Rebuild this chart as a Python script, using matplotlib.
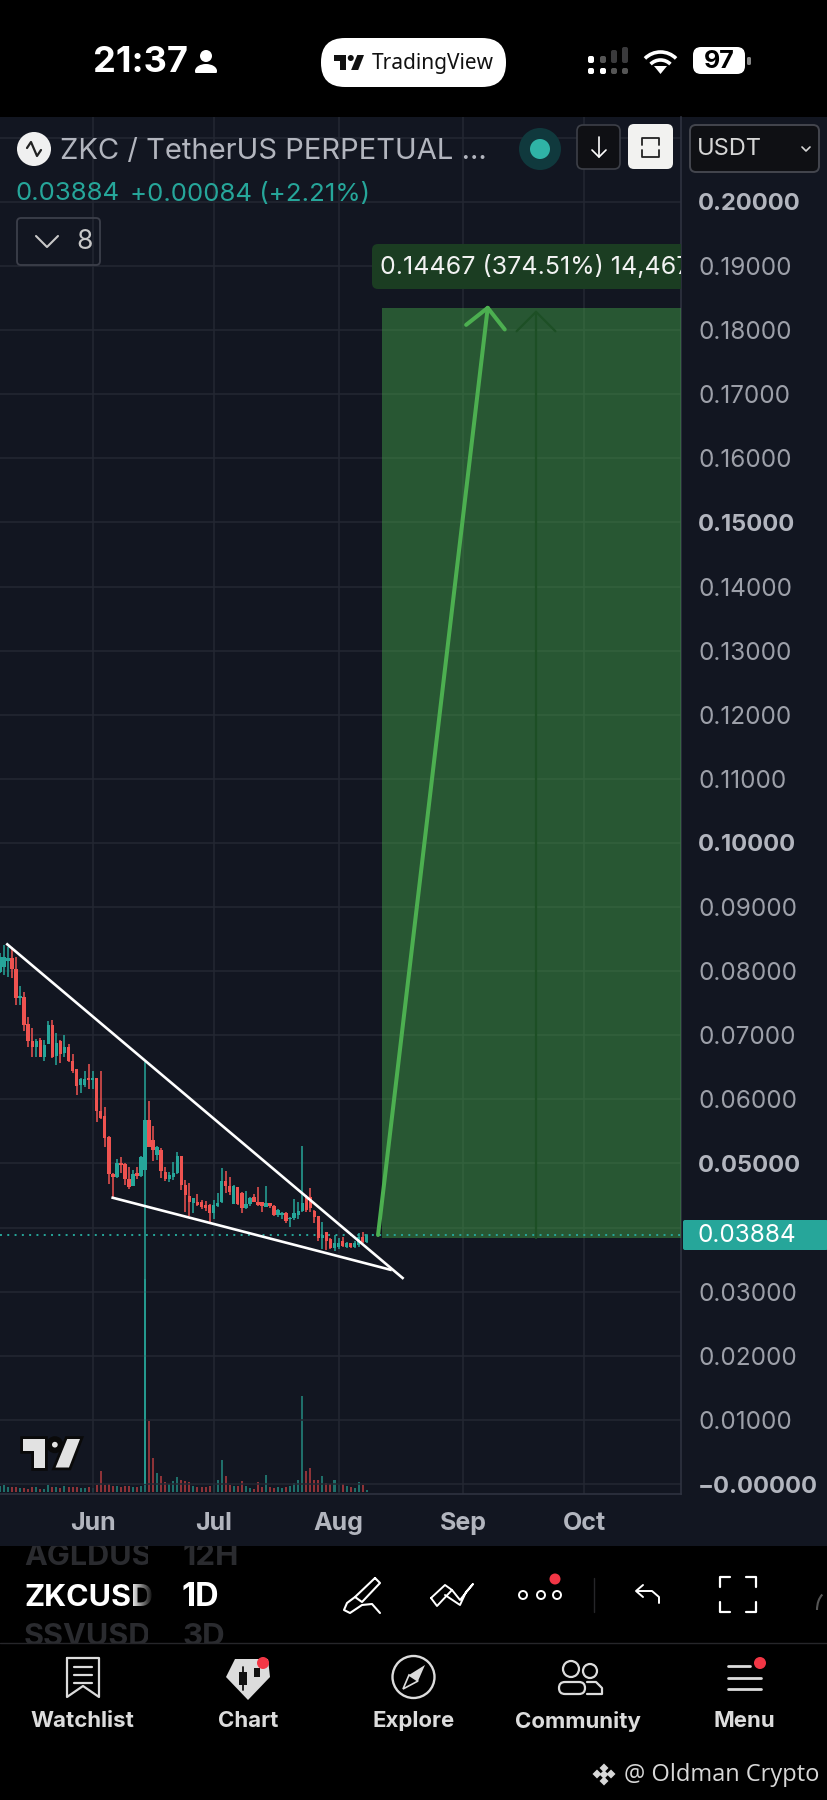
import numpy as np
import matplotlib
matplotlib.use("Agg")
import matplotlib.pyplot as plt
from matplotlib.patches import Circle, Rectangle, FancyBboxPatch, Polygon, Arc, Ellipse

# daily candles, days counted from 1 Jun
days = list(range(-23, 69))
highs = [8289, 8408, 8382, 8382, 8226, 7769, 7670, 7280, 7108, 6942, 6952, 6926, 7228, 7238, 7030, 6926,
         7004, 6864, 6703, 6474, 6339, 6448, 6547, 6443, 6339, 6443, 5886, 5434, 4846, 5075, 5106, 5002,
         4940, 4898, 4940, 5117, 6578, 5975, 5585, 5278, 5236, 4940, 4872, 5018, 5184, 5117, 4742, 4690,
         4467, 4519, 4430, 4420, 4368, 4430, 4545, 4935, 4888, 4784, 4659, 4628, 4560, 4576, 4472, 4524,
         4638, 4404, 4654, 4389, 4352, 4285, 4238, 4248, 4160, 4441, 4404, 5273, 4508, 4612, 4274, 4181,
         4082, 3936, 3832, 3884, 3832, 3848, 3780, 3765, 3796, 3921, 3936, 3900]
lows = [7966, 7940, 7914, 7888, 7472, 7472, 7072, 6812, 6666, 6656, 6656, 6599, 6859, 6640, 6536, 6562,
        6666, 6588, 6406, 6074, 6105, 6188, 6162, 6162, 5652, 5689, 5262, 4680, 4467, 4768, 4846, 4664,
        4597, 4654, 4758, 4794, 0, 5252, 5044, 5054, 4768, 4732, 4716, 4742, 4831, 4586, 4248, 4181,
        4222, 4337, 4285, 4264, 4077, 4129, 4326, 4389, 4534, 4508, 4368, 4352, 4222, 4290, 4337, 4404,
        4337, 4243, 4316, 4311, 4186, 4160, 4129, 4077, 4004, 4118, 4129, 4248, 4238, 4248, 4077, 3796,
        3661, 3650, 3661, 3640, 3661, 3692, 3676, 3676, 3676, 3702, 3765, 3765]
opens = [7992, 8070, 8164, 8200, 8029, 7576, 7602, 7176, 6911, 6812, 6926, 6656, 6859, 7160, 6677, 6911,
         6729, 6822, 6604, 6469, 6224, 6224, 6328, 6302, 6328, 5819, 5741, 5418, 4836, 4794, 5002, 4987,
         4753, 4654, 4846, 4805, 4898, 5678, 5366, 5132, 5210, 4872, 4753, 4794, 4846, 5117, 4664, 4493,
         4378, 4404, 4404, 4352, 4352, 4222, 4337, 4404, 4732, 4649, 4368, 4628, 4545, 4300, 4368, 4472,
         4404, 4404, 4316, 4389, 4337, 4196, 4196, 4233, 4129, 4144, 4196, 4264, 4482, 4482, 4264, 4181,
         3832, 3936, 3817, 3676, 3692, 3796, 3702, 3754, 3702, 3728, 3848, 3780]
closes = [8226, 8226, 8200, 8029, 7576, 7613, 7160, 6911, 6812, 6911, 6656, 6848, 7160, 6666, 6874, 6708,
          6822, 6604, 6448, 6214, 6318, 6318, 6302, 6328, 5819, 5704, 5392, 4836, 4794, 5002, 4976, 4753,
          4638, 4831, 4810, 5106, 5678, 5262, 5210, 5252, 4888, 4753, 4820, 4846, 5117, 4664, 4508, 4404,
          4456, 4352, 4316, 4300, 4222, 4352, 4389, 4732, 4649, 4560, 4649, 4368, 4300, 4368, 4467, 4404,
          4352, 4337, 4389, 4337, 4196, 4274, 4233, 4108, 4144, 4222, 4264, 4378, 4274, 4300, 4170, 3832,
          3884, 3796, 3676, 3754, 3754, 3713, 3765, 3692, 3754, 3848, 3780, 3884]
volumes = [20, 22, 15, 17, 17, 12, 12, 10, 15, 15, 10, 10, 22, 16, 15, 12, 18, 15, 15, 17, 12, 12, 16, 12,
           22, 63, 22, 24, 18, 18, 16, 18, 20, 16, 15, 18, 640, 213, 102, 58, 48, 32, 25, 33, 45, 37, 33, 30,
           20, 15, 15, 17, 20, 27, 36, 97, 48, 22, 18, 18, 33, 20, 12, 10, 30, 15, 52, 15, 12, 15, 12, 15,
           18, 28, 38, 288, 65, 72, 36, 38, 48, 27, 25, 38, 25, 25, 18, 15, 14, 30, 22, 8]

month_days = [0, 30, 61, 92, 122]
month_names = ["Jun", "Jul", "Aug", "Sep", "Oct"]
price_ticks = [i / 100 for i in range(0, 22)]
last_price = 0.03884
box_bottom = 0.03838
target_price = 0.18351
upper_line = ([-21.2, 76.9], [0.08419, 0.03214])
lower_line = ([4.96, 73.9], [0.04466, 0.03342])

BG = "#121621"
GRID = "#242833"
TEAL = "#26a69a"
RED = "#ef5350"
LABEL = "#b2b5be"
FONT = "Inter"

fig = plt.figure(figsize=(8.28, 18), dpi=100, facecolor="black")
W, H = 828, 1800


def px_rect(left, top, right, bottom):
    return [left / W, (H - bottom) / H, (right - left) / W, (bottom - top) / H]


# backdrop for the panels around the plot
back = fig.add_axes([0, 0, 1, 1], zorder=0)
back.set_xlim(0, W)
back.set_ylim(H, 0)
back.axis("off")
back.add_patch(Rectangle((0, 117), W, 1429, color=BG, lw=0))

xlim = (-23.0, 146.1)
ax_vol = fig.add_axes(px_rect(0, 117, 681.5, 1494), zorder=1)
ax_vol.set_xlim(*xlim)
ax_vol.set_ylim(-5, 1377 * 3 - 5)
ax_vol.axis("off")
vol_colors = ["#1f6f6a" if c >= o else "#8e3338" for o, c in zip(opens, closes)]
ax_vol.bar(days, volumes, width=0.5, color=vol_colors, lw=0)

ax = fig.add_axes(px_rect(0, 117, 681.5, 1494), zorder=2)
ax.patch.set_alpha(0)
ax.set_xlim(*xlim)
ax.set_ylim(-0.00156, 0.21326)
ax.set_axisbelow(True)
ax.grid(True, color=GRID, lw=1.1)

o = np.array(opens) / 1e5
c = np.array(closes) / 1e5
hi = np.array(highs) / 1e5
lo = np.array(lows) / 1e5
colors = [TEAL if b >= a else RED for a, b in zip(o, c)]
ax.vlines(days, lo, hi, colors=colors, lw=1.1, zorder=3)
ax.bar(days, np.abs(c - o), bottom=np.minimum(o, c), width=0.85, color=colors, lw=0, zorder=4)

ax.add_patch(Rectangle((71.8, box_bottom), xlim[1] - 71.8, target_price - box_bottom,
                       color="#48b24c", alpha=0.42, lw=0, zorder=5))
ax.axhline(last_price, color=TEAL, lw=1.4, ls=(0, (1, 2.75)), zorder=6)
ax.plot(*upper_line, color="white", lw=1.9, zorder=6)
ax.plot(*lower_line, color="white", lw=1.9, zorder=6)
# the measure tool's own arrow, dark inside the box
ax.annotate("", xy=(110, target_price - 0.0004), xytext=(110, box_bottom),
            arrowprops=dict(arrowstyle="->,head_length=0.7,head_width=0.7", mutation_scale=20,
                            color="#1d4f25", lw=1.6, shrinkA=0, shrinkB=0), zorder=6)
ax.annotate("", xy=(98.1, 0.18393), xytext=(70.8, last_price),
            arrowprops=dict(arrowstyle="->,head_length=0.7,head_width=0.7", mutation_scale=20,
                            color="#4caf50", lw=2.9, shrinkA=0, shrinkB=0), zorder=7)

for name in ["top", "left"]:
    ax.spines[name].set_visible(False)
for name in ["right", "bottom"]:
    ax.spines[name].set_color("#2e3240")
    ax.spines[name].set_linewidth(1.2)

ax.yaxis.tick_right()
price_labels = []
for p in price_ticks:
    if p == 0:
        price_labels.append("\u22120.00000")
    elif p > 0.2 or p == 0.04:  # 0.04 sits under the last price tag
        price_labels.append("")
    else:
        price_labels.append(f"{p:.5f}")
ax.set_yticks(price_ticks, labels=price_labels)
ax.tick_params(axis="y", length=0, pad=12, labelsize=17.5, labelcolor="#9da0a9")
for p, label_ in zip(price_ticks, ax.get_yticklabels()):
    label_.set_fontfamily(FONT)
    if round(p * 100) % 5 == 0:
        label_.set_fontweight("bold")
        label_.set_fontsize(17)
        label_.set_color(LABEL)
ax.set_xticks(month_days, labels=month_names)
ax.tick_params(axis="x", length=0, pad=13, labelsize=18, labelcolor=LABEL)
for label_ in ax.get_xticklabels():
    label_.set_fontfamily(FONT)
    label_.set_fontweight("bold")

# app chrome, drawn in screen pixels
ui = fig.add_axes([0, 0, 1, 1], zorder=3)
ui.set_xlim(0, W)
ui.set_ylim(H, 0)
ui.axis("off")
ui.patch.set_alpha(0)


def rbox(left, top, right, bottom, r, fc, ec="none", lw=0):
    patch = FancyBboxPatch((left + r, top + r), right - left - 2 * r, bottom - top - 2 * r,
                           boxstyle=f"round,pad={r},rounding_size={r}", fc=fc, ec=ec, lw=lw)
    ui.add_patch(patch)
    return patch


def label(x, y, s, size, color="white", weight="normal", ha="left", family=FONT, clip=None):
    t = ui.text(x, y, s, fontsize=size, color=color, fontweight=weight, ha=ha, va="center",
                fontfamily=family)
    if clip:
        t.set_clip_on(True)
        t.set_clip_path(Rectangle(clip[:2], clip[2], clip[3], transform=ui.transData))
    return t


def line(xs, ys, color="white", lw=1.6):
    ui.plot(xs, ys, color=color, lw=lw, solid_capstyle="round", solid_joinstyle="round")


def tv_logo(x, y, w, color, outline=None):
    pts7 = [(0, 0), (0.394, 0), (0.394, 0.5), (0.188, 0.5), (0.188, 0.206), (0, 0.206)]
    slash = [(0.776, 0), (1, 0), (0.806, 0.5), (0.571, 0.5)]
    ec = outline if outline else "none"
    lw = 4 if outline else 0
    for pts in (pts7, slash):
        ui.add_patch(Polygon([(x + a * w, y + b * w) for a, b in pts], fc=color, ec=ec, lw=lw, joinstyle="miter"))
    ui.add_patch(Circle((x + 0.559 * w, y + 0.1 * w), 0.1 * w, fc=color, ec=ec, lw=lw))
    if outline:
        for pts in (pts7, slash):
            ui.add_patch(Polygon([(x + a * w, y + b * w) for a, b in pts], fc=color, ec="none"))


# status bar
label(93, 62, "21:37", 26, weight="bold")
ui.add_patch(Circle((206, 56), 6, fc="white"))
ui.add_patch(Ellipse((206, 71), 22, 14, fc="white"))
ui.add_patch(Rectangle((194, 73), 24, 8, fc="black"))
rbox(321, 38, 506, 87, 24, "white")
tv_logo(334, 55, 30, "#111111")
label(372, 63, "TradingView", 15, color="#111111", family="Noto Sans")
for bx, top, col in [(591, 56, "white"), (603, 56, "#555"), (614, 50, "#3a3a3c"), (625, 47, "#3a3a3c")]:
    rbox(bx - 3, top, bx + 3, 63, 2, col)
for bx, col in [(591, "white"), (603, "white"), (614, "#555"), (625, "#555")]:
    rbox(bx - 3, 68, bx + 3, 74, 2, col)
for r in (10, 18):
    ui.add_patch(Arc((660.5, 74), 2 * r + 8, 2 * r + 8, theta1=225, theta2=315, color="white", lw=2.6))
ui.add_patch(Polygon([(660.5, 74), (654, 66), (667, 66)], fc="white"))
rbox(693, 47, 745, 74, 8, "white")
label(719, 61, "97", 18, color="black", weight="bold", ha="center")
rbox(747, 57, 751, 65, 1.5, "#888")

# legend row
ui.add_patch(Ellipse((34, 149), 34, 34, fc="#f0f0f0"))
line([27, 31, 34, 37, 41], [148, 142, 149, 156, 150], color="#222", lw=1.6)
label(60, 151, "ZKC / TetherUS PERPETUAL ...", 21, color=LABEL)
ui.add_patch(Circle((540, 149), 21, fc="#10393d"))
ui.add_patch(Circle((540, 149), 10, fc="#2fb3a6"))
rbox(577, 125, 620, 169, 6, "#0f1014", ec="#3d4048", lw=1.2)
line([599, 599], [137, 157], lw=1.2)
line([592, 599, 606], [150, 157, 150], lw=1.2)
rbox(628, 124, 673, 169, 6, "#f2f2f0")
line([642, 642, 659, 659], [145, 138, 138, 145], color="#222", lw=1.3)
line([642, 642, 659, 659], [150, 157, 157, 150], color="#222", lw=1.3)
rbox(690, 125, 819, 172, 6, "#0f1014", ec="#44464e", lw=1.4)
label(697, 149, "USDT", 17, color="#d6d6d6")
line([802, 806, 810], [147, 151, 147], color="#d6d6d6", lw=1.2)
label(16, 194, "0.03884", 18.6, color=TEAL)
label(130, 194, "+0.00084 (+2.21%)", 18.6, color=TEAL)
rbox(17, 218, 100, 265, 4, "none", ec="#3c3f4a", lw=1.3)
line([36, 47, 58], [236, 247, 236], color="#c8c8c8", lw=1.5)
label(76, 242, "8", 19, color="#c8c8c8")

# measure tag, cut by the price scale
tag_box = rbox(372, 244, 690, 289, 6, "#1b3d22")
tag_box.set_clip_path(Rectangle((372, 240), 309.5, 52, transform=ui.transData))
label(380, 267, "0.14467 (374.51%) 14,467", 18, color="#f2f2f2", clip=(372, 244, 309.5, 45))

# last price tag
rbox(683, 1220, 828, 1250, 2, "#26a69a")
label(698, 1236, "0.03884", 17.5, color="white")

# watermark
tv_logo(23, 1439, 57, "#e2e2e2", outline="#0a0a0a")

# symbol picker
label(24, 1557, "AGLDUS", 22, color="#2a2b2f", weight="bold", clip=(0, 1546, 148, 30))
label(183, 1557, "12H", 22.5, color="#2a2b2f", weight="bold", clip=(0, 1546, 300, 30))
label(24, 1598, "ZKCUSD", 22, weight="bold", clip=(0, 1575, 152, 40))
label(182, 1598, "1D", 23.5, weight="bold")
label(24, 1637, "SSVUSD", 22, color="#2a2b2f", weight="bold", clip=(0, 1620, 148, 23))
label(183, 1637, "3D", 22.5, color="#2a2b2f", weight="bold", clip=(0, 1620, 300, 23))
fade_rgba = np.zeros((1, 24, 4))
fade_rgba[..., 3] = np.linspace(0, 1, 24)
ui.imshow(fade_rgba, extent=(130, 154, 1616, 1576), aspect="auto", zorder=5)
ui.set_xlim(0, W)
ui.set_ylim(H, 0)

# drawing tools
line([375, 380, 362, 355, 375], [1578, 1583, 1602, 1597, 1578], lw=1.5)
line([355, 347, 344, 350, 362, 372, 380], [1597, 1603, 1610, 1613, 1605, 1604, 1613], lw=1.5)
line([431, 445, 452, 437, 431], [1598, 1585, 1590, 1606, 1598], lw=1.4)
line([445, 460, 466, 473, 460, 452], [1595, 1605, 1592, 1584, 1600, 1590], lw=1.4)
for dx in (523, 541, 557):
    ui.add_patch(Circle((dx, 1595), 4, fc="none", ec="white", lw=1.4))
ui.add_patch(Circle((555, 1579), 5.5, fc="#f23645"))
line([594, 594], [1578, 1612], color="#262629", lw=1)
line([659, 659, 652, 637], [1603, 1597, 1591, 1591], lw=1.4)
line([643, 636, 643], [1585, 1591, 1597], lw=1.4)
for xa, xb, ya, yb in [(730, 720, 1577, 1587), (746, 756, 1577, 1587), (730, 720, 1612, 1602), (746, 756, 1612, 1602)]:
    line([xa, xb, xb], [ya, ya, yb], lw=1.6)
ui.add_patch(Arc((828, 1610), 22, 36, theta1=180, theta2=250, color="#555", lw=1.5))
line([0, 828], [1643, 1643], color="#26262a", lw=1)

# bottom navigation
NAV = "#dcdcdc"
label(82, 1721, "Watchlist", 16, color=NAV, weight="bold", ha="center")
label(248, 1721, "Chart", 16, color=NAV, weight="bold", ha="center")
label(413.5, 1721, "Explore", 16, color=NAV, weight="bold", ha="center")
label(578, 1721, "Community", 16, color=NAV, weight="bold", ha="center")
label(744, 1721, "Menu", 16, color=NAV, weight="bold", ha="center")

line([67, 99, 99, 83, 67, 67], [1658, 1658, 1697, 1686, 1697, 1658], color=NAV, lw=1.6)
for ly in (1667, 1675, 1683):
    line([74, 92], [ly, ly], color=NAV, lw=1.6)

ui.add_patch(Polygon([(235, 1659), (268, 1659), (270, 1677), (248, 1700), (226, 1677)], fc=NAV))
ui.add_patch(Rectangle((239, 1672), 8, 13, fc="#111"))
line([243, 243], [1667, 1690], color="#111", lw=1.3)
ui.add_patch(Rectangle((254, 1668), 6, 9, fc="#111"))
ui.add_patch(Circle((263, 1663), 6, fc="#f23645"))

ui.add_patch(Circle((413.5, 1677), 21, fc="none", ec=NAV, lw=1.7))
ui.add_patch(Polygon([(425, 1665), (418, 1681), (409, 1675)], fc=NAV))
ui.add_patch(Polygon([(403, 1689), (418, 1681), (409, 1675)], fc="none", ec=NAV, lw=1.2))

ui.add_patch(Circle((571, 1669), 8, fc="none", ec=NAV, lw=1.6))
ui.add_patch(Circle((590, 1671), 7, fc="none", ec=NAV, lw=1.6))
rbox(559, 1682, 585, 1694, 6, "none", ec=NAV, lw=1.6)
line([587, 596, 602, 602, 587], [1682, 1682, 1688, 1694, 1694], color=NAV, lw=1.6)

for ly, xb in [(1666, 750), (1678, 761), (1689, 761)]:
    line([728, xb], [ly, ly], color=NAV, lw=2)
ui.add_patch(Circle((760, 1663), 6, fc="#f23645"))

# credit
for cx, cy in [(604, 1768), (604, 1781), (597, 1774), (611, 1774), (604, 1774.5)]:
    size = 4.5
    ui.add_patch(Polygon([(cx, cy - size), (cx + size, cy), (cx, cy + size), (cx - size, cy)], fc="#d8d8d8"))
label(624, 1775, "@ Oldman Crypto", 17, color="#d8d8d8", family="Open Sans")

fig.savefig("out.png", dpi=100, facecolor="black")
